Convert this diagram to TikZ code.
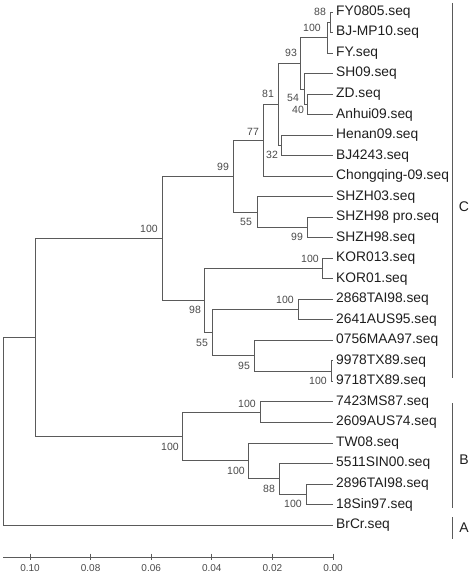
\documentclass[tikz,border=0pt]{standalone}
\usepackage{fontspec}
\setmainfont{Liberation Sans}
\definecolor{linecol}{HTML}{5A5A5A}
\definecolor{txtcol}{HTML}{1E1E1E}
\definecolor{bscol}{HTML}{4A4A4A}
\begin{document}
\begin{tikzpicture}[x=1pt,y=-1pt,
  branch/.style={draw=linecol,line width=0.8pt},
  leaf/.style={anchor=west,inner xsep=3pt,inner ysep=1pt,font=\fontsize{13.8}{14}\selectfont,text=txtcol},
  boot/.style={inner sep=0pt,font=\fontsize{10.5}{11}\selectfont,text=bscol},
  cladebar/.style={draw=linecol,line width=0.9pt},
  cladelab/.style={inner sep=0pt,font=\fontsize{14}{15}\selectfont,text=txtcol},
  axislab/.style={inner sep=0pt,font=\fontsize{10}{11}\selectfont,text=bscol}]
\useasboundingbox (0,0) rectangle (474,578);

% leaves
\node[leaf] (l1)  at (333,12)     {FY0805.seq};
\node[leaf] (l2)  at (333,32.52)  {BJ-MP10.seq};
\node[leaf] (l3)  at (333,53.04)  {FY.seq};
\node[leaf] (l4)  at (333,73.56)  {SH09.seq};
\node[leaf] (l5)  at (333,94.08)  {ZD.seq};
\node[leaf] (l6)  at (333,114.6)  {Anhui09.seq};
\node[leaf] (l7)  at (333,135.12) {Henan09.seq};
\node[leaf] (l8)  at (333,155.64) {BJ4243.seq};
\node[leaf] (l9)  at (333,176.16) {Chongqing-09.seq};
\node[leaf] (l10) at (333,196.68) {SHZH03.seq};
\node[leaf] (l11) at (333,217.2)  {SHZH98 pro.seq};
\node[leaf] (l12) at (333,237.72) {SHZH98.seq};
\node[leaf] (l13) at (333,258.24) {KOR013.seq};
\node[leaf] (l14) at (333,278.76) {KOR01.seq};
\node[leaf] (l15) at (333,299.28) {2868TAI98.seq};
\node[leaf] (l16) at (333,319.8)  {2641AUS95.seq};
\node[leaf] (l17) at (333,340.32) {0756MAA97.seq};
\node[leaf] (l18) at (333,360.84) {9978TX89.seq};
\node[leaf] (l19) at (333,381.36) {9718TX89.seq};
\node[leaf] (l20) at (333,401.88) {7423MS87.seq};
\node[leaf] (l21) at (333,422.4)  {2609AUS74.seq};
\node[leaf] (l22) at (333,442.92) {TW08.seq};
\node[leaf] (l23) at (333,463.44) {5511SIN00.seq};
\node[leaf] (l24) at (333,483.96) {2896TAI98.seq};
\node[leaf] (l25) at (333,504.48) {18Sin97.seq};
\node[leaf] (l26) at (333,525)    {BrCr.seq};

% internal nodes
\coordinate (n88)   at (330,22.26);
\coordinate (n100a) at (327,37.65);
\coordinate (n40)   at (307,104.34);
\coordinate (n54)   at (304,88.95);
\coordinate (n93)   at (300,63.3);
\coordinate (n32)   at (281,145.38);
\coordinate (n81)   at (278.5,104.34);
\coordinate (n77)   at (263,140.25);
\coordinate (n99b)  at (307,227.46);
\coordinate (n55a)  at (257,212.07);
\coordinate (n99a)  at (233,176.16);
\coordinate (nKOR)  at (322,268.5);
\coordinate (n2868) at (298,309.54);
\coordinate (nTX)   at (331,371.1);
\coordinate (n95)   at (254,355.71);
\coordinate (n55b)  at (212,332.63);
\coordinate (n98)   at (204,300.56);
\coordinate (nC)    at (162,238.36);
\coordinate (n7423) at (260,412.14);
\coordinate (n2896) at (306,494.22);
\coordinate (n88b)  at (279,478.83);
\coordinate (nTW)   at (248,460.88);
\coordinate (nB)    at (182,436.51);
\coordinate (nBC)   at (35,337.44);
\coordinate (root)  at (3,431.2);

% branches
\draw[branch] (n88) |- (l1.west);
\draw[branch] (n88) |- (l2.west);
\draw[branch] (n100a) |- (n88);
\draw[branch] (n100a) |- (l3.west);
\draw[branch] (n40) |- (l5.west);
\draw[branch] (n40) |- (l6.west);
\draw[branch] (n54) |- (l4.west);
\draw[branch] (n54) |- (n40);
\draw[branch] (n93) |- (n100a);
\draw[branch] (n93) |- (n54);
\draw[branch] (n32) |- (l7.west);
\draw[branch] (n32) |- (l8.west);
\draw[branch] (n81) |- (n93);
\draw[branch] (n81) |- (n32);
\draw[branch] (n77) |- (n81);
\draw[branch] (n77) |- (l9.west);
\draw[branch] (n99b) |- (l11.west);
\draw[branch] (n99b) |- (l12.west);
\draw[branch] (n55a) |- (l10.west);
\draw[branch] (n55a) |- (n99b);
\draw[branch] (n99a) |- (n77);
\draw[branch] (n99a) |- (n55a);
\draw[branch] (nKOR) |- (l13.west);
\draw[branch] (nKOR) |- (l14.west);
\draw[branch] (n2868) |- (l15.west);
\draw[branch] (n2868) |- (l16.west);
\draw[branch] (nTX) |- (l18.west);
\draw[branch] (nTX) |- (l19.west);
\draw[branch] (n95) |- (l17.west);
\draw[branch] (n95) |- (nTX);
\draw[branch] (n55b) |- (n2868);
\draw[branch] (n55b) |- (n95);
\draw[branch] (n98) |- (nKOR);
\draw[branch] (n98) |- (n55b);
\draw[branch] (nC) |- (n99a);
\draw[branch] (nC) |- (n98);
\draw[branch] (n7423) |- (l20.west);
\draw[branch] (n7423) |- (l21.west);
\draw[branch] (n2896) |- (l24.west);
\draw[branch] (n2896) |- (l25.west);
\draw[branch] (n88b) |- (l23.west);
\draw[branch] (n88b) |- (n2896);
\draw[branch] (nTW) |- (l22.west);
\draw[branch] (nTW) |- (n88b);
\draw[branch] (nB) |- (n7423);
\draw[branch] (nB) |- (nTW);
\draw[branch] (nBC) |- (nC);
\draw[branch] (nBC) |- (nB);
\draw[branch] (root) |- (nBC);
\draw[branch] (root) |- (l26.west);

% bootstrap values
\node[boot] (b1)  at (320,12)  {88};
\node[boot] (b2)  at (312,28)  {100};
\node[boot] (b3)  at (291,53)  {93};
\node[boot] (b4)  at (293,98)  {54};
\node[boot] (b5)  at (298,110) {40};
\node[boot] (b6)  at (268,94)  {81};
\node[boot] (b7)  at (272,155) {32};
\node[boot] (b8)  at (253,132) {77};
\node[boot] (b9)  at (223,167) {99};
\node[boot] (b10) at (246,222) {55};
\node[boot] (b11) at (297,237) {99};
\node[boot] (b12) at (149,229) {100};
\node[boot] (b13) at (310,259) {100};
\node[boot] (b14) at (195,310) {98};
\node[boot] (b15) at (285,300) {100};
\node[boot] (b16) at (202,343) {55};
\node[boot] (b17) at (244,366) {95};
\node[boot] (b18) at (318,381) {100};
\node[boot] (b19) at (247,404) {100};
\node[boot] (b20) at (170,447) {100};
\node[boot] (b21) at (236,471) {100};
\node[boot] (b22) at (269,489) {88};
\node[boot] (b23) at (293,504) {100};

% clade bars
\coordinate (cCt) at (452,3);
\coordinate (cCb) at (452,378);
\coordinate (cBt) at (452,403);
\coordinate (cBb) at (452,508);
\coordinate (cAt) at (452,517);
\coordinate (cAb) at (452,539);
\draw[cladebar] (cCt) -- (cCb);
\draw[cladebar] (cBt) -- (cBb);
\draw[cladebar] (cAt) -- (cAb);
\node[cladelab] (labC) at (464,207) {C};
\node[cladelab] (labB) at (464,460) {B};
\node[cladelab] (labA) at (464,528) {A};

% scale axis
\coordinate (ax0) at (3,557);
\coordinate (ax1) at (333,557);
\draw[branch] (ax0) -- (ax1);
\foreach \k/\lab in {0/0.00,1/0.02,2/0.04,3/0.06,4/0.08,5/0.10}{
  \coordinate (tk\k) at ({333-60.6*\k},557);
  \draw[branch] ([yshift=3.5pt]tk\k) -- ([yshift=-3pt]tk\k);
  \node[axislab] (al\k) at ({333-60.6*\k},568) {\lab};
}
\end{tikzpicture}
\end{document}
